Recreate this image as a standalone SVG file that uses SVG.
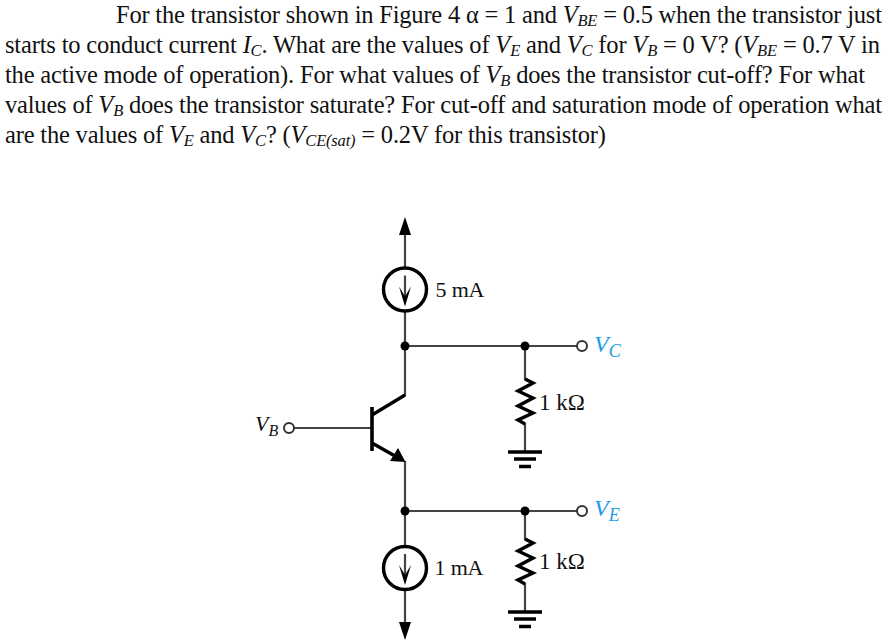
<svg xmlns="http://www.w3.org/2000/svg" width="894" height="641" viewBox="0 0 894 641">
<style>
text{font-family:"Liberation Serif","Times New Roman",serif;fill:#111}
.p{font-size:24.500px}
.s{font-size:16.500px;font-style:italic}
.i{font-style:italic}
.l{font-size:22px}
.n{font-size:23px}
.v{font-size:24px;font-style:italic}
.b{fill:#1e9be8}
.u{font-size:18px}
.w{fill:none;stroke:#444;stroke-width:2.200}
.t{fill:none;stroke:#000;stroke-width:3.600}
.r{fill:none;stroke:#000;stroke-width:3.400;stroke-linejoin:miter}
.d{fill:#000}
.o{fill:#fff;stroke:#333;stroke-width:2}
</style>
<defs>
<g id="gnd"><path d="M-17 0H17M-11 7H11M-6 14.500H6" fill="none" stroke="#000" stroke-width="3.400"/></g>
<g id="res"><path d="M0 -1L8 3L-7 11L8 18L-7 26L8 33L-7 40L0 44" class="r"/></g>
<g id="src"><circle r="21.500" fill="none" stroke="#000" stroke-width="3.400"/><path d="M0 -14V8" class="w"/><path d="M0 17L-6 -3L0 7L6 -3Z" class="d"/></g>
</defs>
<g id="question">
<text class="p" x="116" y="23" textLength="766" lengthAdjust="spacing">For the transistor shown in Figure 4 α = 1 and <tspan class="i">V</tspan><tspan class="s" dy="3">BE</tspan><tspan dy="-3"> = 0.5 when the transistor just</tspan></text>
<text class="p" x="5" y="53" textLength="875" lengthAdjust="spacing">starts to conduct current <tspan class="i">I</tspan><tspan class="s" dy="3">C</tspan><tspan dy="-3">. What are the values of </tspan><tspan class="i">V</tspan><tspan class="s" dy="3">E</tspan><tspan dy="-3"> and </tspan><tspan class="i">V</tspan><tspan class="s" dy="3">C</tspan><tspan dy="-3"> for </tspan><tspan class="i">V</tspan><tspan class="s" dy="3">B</tspan><tspan dy="-3"> = 0 V? (</tspan><tspan class="i">V</tspan><tspan class="s" dy="3">BE</tspan><tspan dy="-3"> = 0.7 V in</tspan></text>
<text class="p" x="5" y="83" textLength="860" lengthAdjust="spacing">the active mode of operation). For what values of <tspan class="i">V</tspan><tspan class="s" dy="3">B</tspan><tspan dy="-3"> does the transistor cut-off? For what</tspan></text>
<text class="p" x="5" y="113" textLength="877" lengthAdjust="spacing">values of <tspan class="i">V</tspan><tspan class="s" dy="3">B</tspan><tspan dy="-3"> does the transistor saturate? For cut-off and saturation mode of operation what</tspan></text>
<text class="p" x="5" y="143" textLength="601" lengthAdjust="spacing">are the values of <tspan class="i">V</tspan><tspan class="s" dy="3">E</tspan><tspan dy="-3"> and </tspan><tspan class="i">V</tspan><tspan class="s" dy="3">C</tspan><tspan dy="-3">? (</tspan><tspan class="i">V</tspan><tspan class="s" dy="3">CE(sat)</tspan><tspan dy="-3"> = 0.2V for this transistor)</tspan></text>
</g>
<g id="connectors">
<path class="w" d="M405 232V268M405 311V396M405 346H577M525 346V380M525 423V452M293 428H372"/>
<path class="w" d="M405 461V547M405 511H577M525 511V540M525 583V612M405 589V624"/>
<path class="d" d="M405 217L411 235H399Z"/>
<path class="d" d="M405 640L399 622H411Z"/>
<path class="d" d="M405.500 462L390 461L398 448Z"/>
</g>
<g id="transistor">
<path class="t" d="M372 407V451"/>
<path fill="none" stroke="#000" stroke-width="3.400" d="M372 415L405 395M372 443L395 456"/>
</g>
<g id="source-5ma"><use href="#src" x="405" y="289.500"/><text class="l" x="435.500" y="297" textLength="49">5 mA</text></g>
<g id="source-1ma"><use href="#src" x="405" y="568"/><text class="l" x="434.500" y="575" textLength="49">1 mA</text></g>
<g id="node-c"><circle class="d" cx="405" cy="346" r="4.500"/></g>
<g id="node-c2"><circle class="d" cx="525" cy="346" r="4.500"/></g>
<g id="node-e"><circle class="d" cx="405" cy="511" r="4.500"/></g>
<g id="node-e2"><circle class="d" cx="525" cy="511" r="4.500"/></g>
<g id="terminal-vc"><circle class="o" cx="582" cy="346" r="5"/><text class="v b" x="594" y="352">V<tspan class="u" dy="5">C</tspan></text></g>
<g id="terminal-ve"><circle class="o" cx="582" cy="511" r="5"/><text class="v b" x="594" y="516">V<tspan class="u" dy="5">E</tspan></text></g>
<g id="terminal-vb"><circle class="o" cx="289" cy="428" r="5"/><text class="v" x="255" y="431" style="font-size:22px">V<tspan dy="5" style="font-size:16px">B</tspan></text></g>
<g id="r1"><use href="#res" x="525" y="380"/><text class="n" x="539" y="410">1 kΩ</text><use href="#gnd" x="525" y="452"/></g>
<g id="r2"><use href="#res" x="525" y="540"/><text class="n" x="539" y="569">1 kΩ</text><use href="#gnd" x="525" y="612"/></g>
</svg>
